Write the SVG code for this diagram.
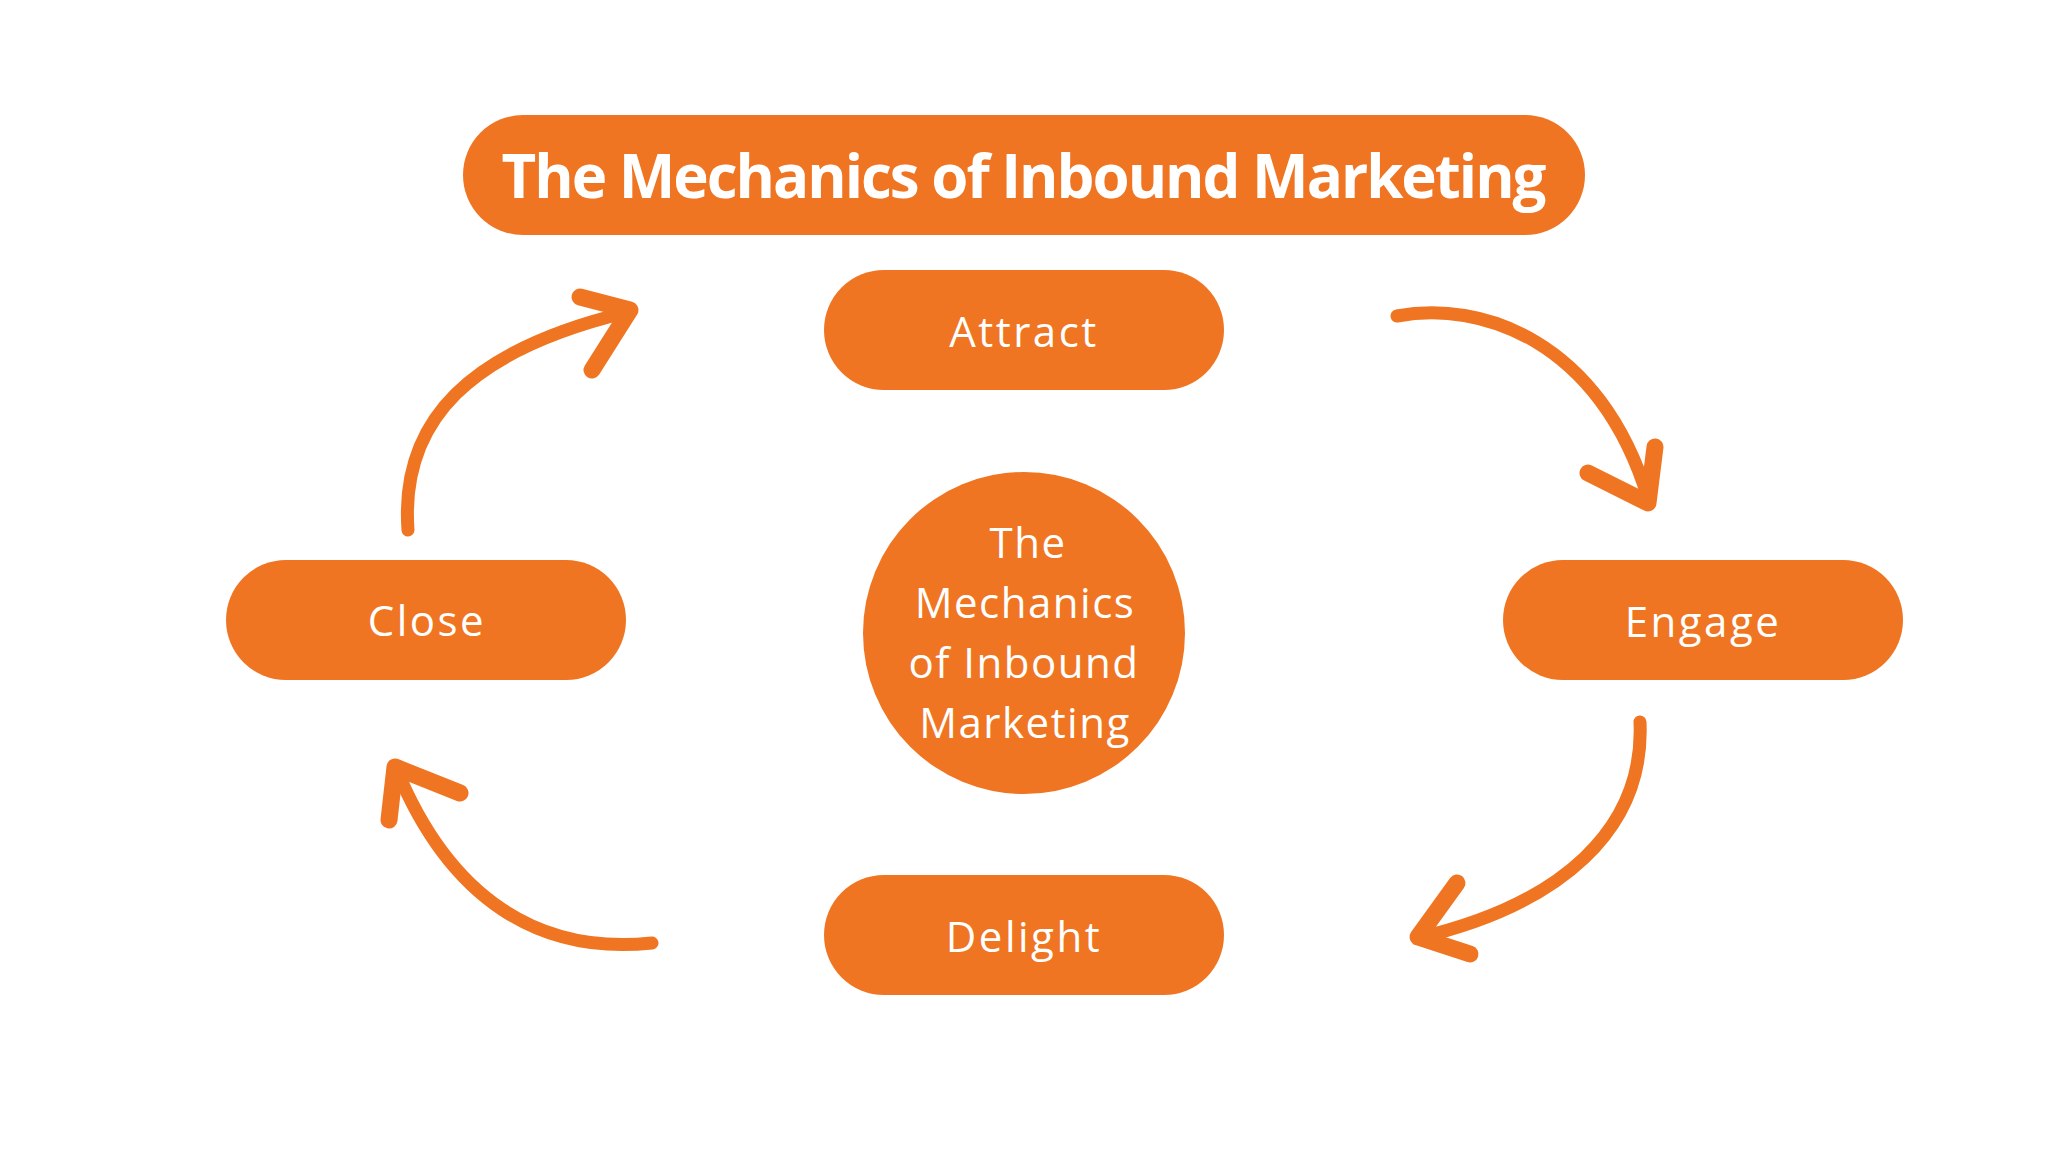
<svg xmlns="http://www.w3.org/2000/svg" width="2048" height="1152" viewBox="0 0 2048 1152">
  <style>
    .pill { fill: #F07522; }
    .lbl { fill: #FFFFFF; font-family: "Open Sans", "Noto Sans", "Liberation Sans", sans-serif; font-size: 42px; text-anchor: middle; letter-spacing: 2.5px; }
    .title { fill: #FFFFFF; font-family: "Open Sans", "Noto Sans", "Liberation Sans", sans-serif; font-size: 60px; font-weight: bold; text-anchor: middle; }
    .ctr { fill: #FFFFFF; font-family: "Open Sans", "Noto Sans", "Liberation Sans", sans-serif; font-size: 42px; text-anchor: middle; letter-spacing: 1.5px; }
    .arc { fill: none; stroke: #F07522; stroke-width: 13; stroke-linecap: round; }
    .head { fill: none; stroke: #F07522; stroke-width: 17; stroke-linecap: round; stroke-linejoin: round; }
  </style>
  <rect width="2048" height="1152" fill="#FFFFFF"/>

  <g id="title">
    <rect class="pill" x="463" y="115" width="1122" height="120" rx="60" ry="60"/>
    <text class="title" x="1024" y="198" textLength="1045" lengthAdjust="spacing">The Mechanics of Inbound Marketing</text>
  </g>

  <g id="attract">
    <rect class="pill" x="824" y="270" width="400" height="120" rx="60" ry="60"/>
    <text class="lbl" x="1024" y="347">Attract</text>
  </g>

  <g id="engage">
    <rect class="pill" x="1503" y="560" width="400" height="120" rx="60" ry="60"/>
    <text class="lbl" x="1703" y="637">Engage</text>
  </g>

  <g id="close">
    <rect class="pill" x="226" y="560" width="400" height="120" rx="60" ry="60"/>
    <text class="lbl" x="427" y="636">Close</text>
  </g>

  <g id="delight">
    <rect class="pill" x="824" y="875" width="400" height="120" rx="60" ry="60"/>
    <text class="lbl" x="1024" y="952">Delight</text>
  </g>

  <g id="center">
    <circle class="pill" cx="1024" cy="633" r="161"/>
    <text class="ctr" x="1028" y="558">The</text>
    <text class="ctr" x="1025" y="618">Mechanics</text>
    <text class="ctr" x="1024" y="678">of Inbound</text>
    <text class="ctr" x="1025" y="738">Marketing</text>
  </g>

  <g id="connectors">
    <path class="arc" d="M1397,316 C1480,300 1600,340 1648,498"/>
    <polyline class="head" points="1588,473 1648,503 1655,447"/>

    <path class="arc" d="M1640,722 C1645,830 1560,905 1418,938"/>
    <polyline class="head" points="1457,883 1418,937 1470,954"/>

    <path class="arc" d="M652,943 C540,955 450,900 396,768"/>
    <polyline class="head" points="389,820 395,767 460,793"/>

    <path class="arc" d="M408,530 C400,420 470,350 628,312"/>
    <polyline class="head" points="580,297 630,310 592,370"/>
  </g>
</svg>
